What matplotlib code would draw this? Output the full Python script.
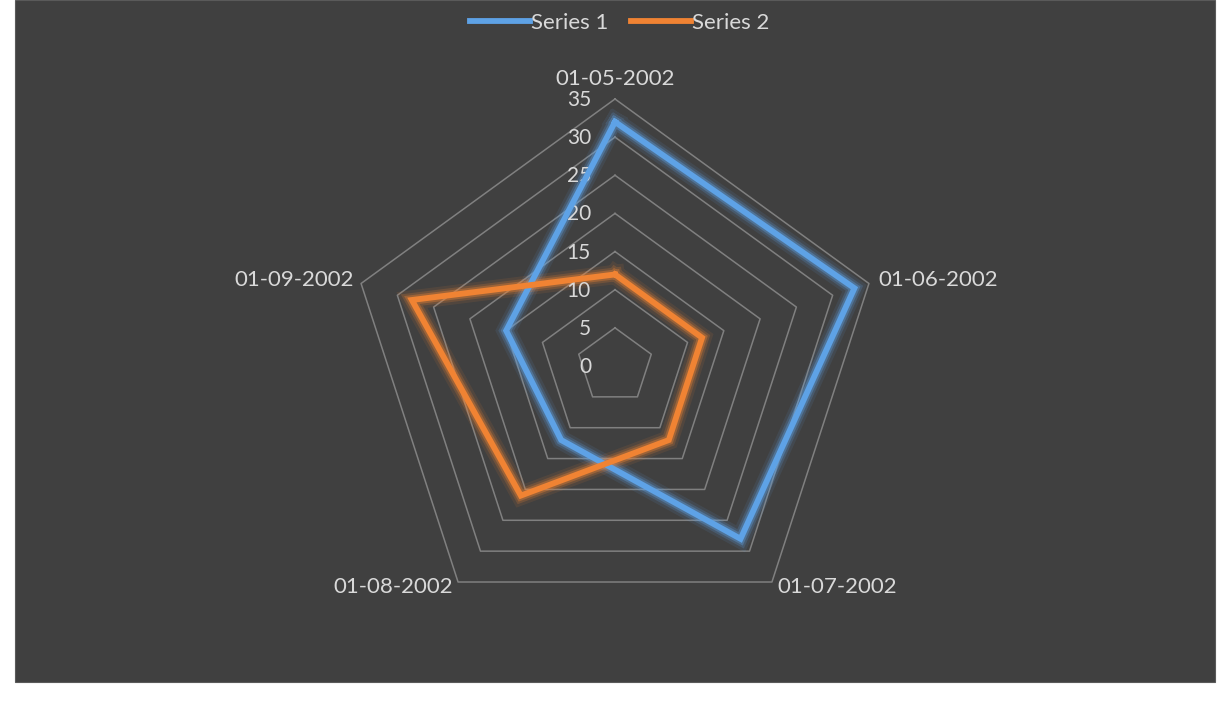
# radar chart, dark excel style

import numpy as np
import matplotlib.pyplot as plt
from matplotlib.patches import Rectangle

plt.rcParams['font.family'] = ['Lato', 'DejaVu Sans']
plt.rcParams['font.size'] = 16

# data
categories = ["01-05-2002", "01-06-2002", "01-07-2002", "01-08-2002", "01-09-2002"]
series_1 = [32, 33, 28, 12, 15]
series_2 = [12, 12, 12, 21, 28]
ring_values = [5, 10, 15, 20, 25, 30, 35]
tick_labels = ["0", "5", "10", "15", "20", "25", "30", "35"]

bg = "#404040"
txt_col = "#d9d9d9"
grid_col = "#808080"
blue = "#5ea2e6"
orange = "#f08333"

W, H = 1229, 707
fig = plt.figure(figsize=(W / 100, H / 100), dpi=100, facecolor="white")

# dark panel (behind everything)
fig.patches.append(Rectangle((15 / W, 25 / H), 1200 / W, 682 / H, transform=fig.transFigure,
                             facecolor=bg, edgecolor="#5a5a5a", lw=0.8, zorder=-10))

# polar axes placed so the centre sits at (615, 366) px, radius 267 px
cx, cy, R = 615, H - 366, 267
ax = fig.add_axes([(cx - R) / W, (cy - R) / H, 2 * R / W, 2 * R / H], projection="polar")
ax.set_zorder(5)
ax.set_facecolor("none")
ax.set_theta_offset(np.pi / 2)
ax.set_theta_direction(-1)
ax.set_ylim(0, 35)
ax.grid(False)
ax.spines["polar"].set_visible(False)
ax.set_xticks([])
ax.set_yticks([])

n = len(categories)
angles = np.linspace(0, 2 * np.pi, n, endpoint=False)
closed = np.append(angles, angles[0])

# pentagon gridlines
for v in ring_values:
    ax.plot(closed, [v] * (n + 1), color=grid_col, lw=1.1, clip_on=False, zorder=1)

# radial tick labels
for lab in tick_labels:
    ax.annotate(lab, xy=(0, float(lab)), xytext=(-24, -1), textcoords="offset pixels",
                ha="right", va="center", color=txt_col, fontsize=15, annotation_clip=False)

# category labels
offsets = [(0, 10, "center", "bottom"), (9, 3, "left", "center"),
           (5, -5, "left", "center"), (-5, -5, "right", "center"), (-7, 3, "right", "center")]
for ang, lab, (dx, dy, ha, va) in zip(angles, categories, offsets):
    ax.annotate(lab, xy=(ang, 35), xytext=(dx, dy), textcoords="offset pixels",
                ha=ha, va=va, color=txt_col, fontsize=16, annotation_clip=False)

# series with soft glow
for vals, col, name in [(series_1, blue, "Series 1"), (series_2, orange, "Series 2")]:
    v = np.append(vals, vals[0])
    for lw, a in [(14, 0.10), (10, 0.20), (7, 0.35)]:
        ax.plot(closed, v, color=col, lw=lw, alpha=a, solid_joinstyle="miter", clip_on=False, zorder=2)
    ax.plot(closed, v, color=col, lw=4.2, solid_joinstyle="miter", clip_on=False, zorder=3, label=name)

leg = fig.legend(loc="upper center", bbox_to_anchor=(0.504, 1.01), ncol=2, frameon=False,
                 handlelength=2.7, handletextpad=0.05, columnspacing=1.0, fontsize=16)
for t in leg.get_texts():
    t.set_color(txt_col)

fig.savefig("out.png", dpi=100, facecolor="white")
